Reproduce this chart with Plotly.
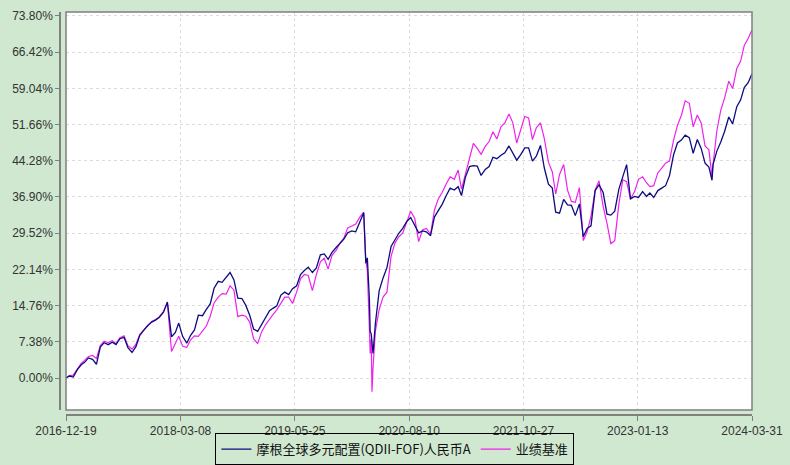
import plotly.graph_objects as go

dates = [
    "2016-12-19", "2017-01-01", "2017-01-16", "2017-02-01", "2017-02-16", "2017-03-01", "2017-03-16",
    "2017-04-01", "2017-04-16", "2017-05-01", "2017-05-16", "2017-06-01", "2017-06-16", "2017-07-01",
    "2017-07-16", "2017-08-01", "2017-08-16", "2017-09-01", "2017-09-16", "2017-10-01", "2017-10-16",
    "2017-11-01", "2017-11-16", "2017-12-01", "2017-12-16",
    "2018-01-01", "2018-01-16", "2018-02-01", "2018-02-16", "2018-03-01", "2018-03-16", "2018-04-01",
    "2018-04-16", "2018-05-01", "2018-05-16", "2018-06-01", "2018-06-16", "2018-07-01", "2018-07-16",
    "2018-08-01", "2018-08-16", "2018-09-01", "2018-09-16", "2018-10-01", "2018-10-16", "2018-11-01",
    "2018-11-16", "2018-12-01", "2018-12-16",
    "2019-01-01", "2019-01-16", "2019-02-01", "2019-02-16", "2019-03-01", "2019-03-16", "2019-04-01",
    "2019-04-16", "2019-05-01", "2019-05-16", "2019-06-01", "2019-06-16", "2019-07-01", "2019-07-16",
    "2019-08-01", "2019-08-16", "2019-09-01", "2019-09-16", "2019-10-01", "2019-10-16", "2019-11-01",
    "2019-11-16", "2019-12-01", "2019-12-16",
    "2020-01-01", "2020-01-16", "2020-02-01", "2020-02-16", "2020-02-24", "2020-03-01", "2020-03-09",
    "2020-03-12", "2020-03-16", "2020-03-19", "2020-03-23", "2020-04-01", "2020-04-16", "2020-05-01",
    "2020-05-16", "2020-06-01", "2020-06-16", "2020-07-01", "2020-07-16", "2020-08-01", "2020-08-16",
    "2020-09-01", "2020-09-16", "2020-10-01", "2020-10-16", "2020-11-01", "2020-11-16", "2020-12-01",
    "2020-12-16",
    "2021-01-01", "2021-01-16", "2021-02-01", "2021-02-16", "2021-03-01", "2021-03-16", "2021-04-01",
    "2021-04-16", "2021-05-01", "2021-05-16", "2021-06-01", "2021-06-16", "2021-07-01", "2021-07-16",
    "2021-08-01", "2021-08-16", "2021-09-01", "2021-09-16", "2021-10-01", "2021-10-16", "2021-11-01",
    "2021-11-16", "2021-12-01", "2021-12-16",
    "2022-01-01", "2022-01-16", "2022-02-01", "2022-02-16", "2022-03-01", "2022-03-16", "2022-04-01",
    "2022-04-16", "2022-05-01", "2022-05-16", "2022-06-01", "2022-06-16", "2022-07-01", "2022-07-16",
    "2022-08-01", "2022-08-16", "2022-09-01", "2022-09-16", "2022-10-01", "2022-10-16", "2022-11-01",
    "2022-11-16", "2022-12-01", "2022-12-16",
    "2023-01-01", "2023-01-16", "2023-02-01", "2023-02-16", "2023-03-01", "2023-03-16", "2023-04-01",
    "2023-04-16", "2023-05-01", "2023-05-16", "2023-06-01", "2023-06-16", "2023-07-01", "2023-07-16",
    "2023-08-01", "2023-08-16", "2023-09-01", "2023-09-16", "2023-10-01", "2023-10-16", "2023-10-28",
    "2023-11-01", "2023-11-16", "2023-12-01", "2023-12-16",
    "2024-01-01", "2024-01-16", "2024-02-01", "2024-02-16", "2024-03-01", "2024-03-16", "2024-03-31",
]

fund = [
    0.0, 0.4, 0.2, 1.7, 2.7, 3.2, 4.1,
    3.8, 2.8, 6.3, 7.2, 6.8, 7.3, 6.8,
    8.0, 8.3, 6.2, 5.2, 6.4, 8.7, 9.7,
    10.7, 11.4, 11.8, 12.4,
    13.4, 15.5, 8.4, 9.3, 11.2, 8.5, 7.1,
    8.7, 9.8, 12.8, 12.7, 14.0, 15.1, 18.3,
    19.7, 19.5, 20.6, 21.5, 20.0, 16.3, 16.2,
    14.8, 12.8, 10.0,
    9.5, 10.8, 12.2, 13.7, 14.2, 14.7, 16.9,
    17.5, 17.0, 18.2, 18.8, 21.1, 21.9, 22.6,
    21.5, 22.4, 25.1, 25.3, 24.2, 25.6, 26.6,
    27.5, 28.3, 29.6,
    30.0, 29.8, 32.0, 33.7, 23.4, 24.5, 16.0,
    9.5, 9.0, 7.0, 5.0, 11.0, 17.8, 20.4,
    22.5, 26.8, 28.1, 29.5, 30.5, 31.9, 32.7,
    31.0, 29.6, 30.0, 29.8, 29.0, 32.8, 34.1,
    35.4,
    37.2, 38.7, 38.3, 39.0, 37.2, 40.9, 43.1,
    43.3, 43.2, 41.3, 42.5, 43.1, 45.0, 44.7,
    45.4, 45.9, 47.3, 45.7, 44.4, 45.5, 46.9,
    46.9, 44.2, 45.2,
    47.4, 42.8, 39.5, 38.7, 33.8, 33.6, 36.4,
    35.3, 35.2, 33.1, 35.5, 28.8, 30.5, 31.0,
    38.2, 39.4, 37.8, 33.4, 33.2, 34.0, 38.5,
    41.0, 43.5, 36.5,
    37.0, 36.8, 38.0, 37.0, 37.7, 36.8, 38.2,
    38.7, 39.2, 41.2, 45.5, 47.9, 48.5, 49.5,
    49.0, 45.8, 48.6, 46.8, 43.8, 43.0, 40.3,
    43.5, 46.3, 48.1, 50.3,
    53.2, 51.8, 55.3, 56.7, 59.2, 60.2, 62.0,
]

bench = [
    0.0, 0.5, 0.6, 1.9, 3.0, 3.6, 4.4,
    4.6, 4.0, 6.6, 7.5, 7.2, 7.6, 7.0,
    8.2, 8.6, 6.6, 5.9, 6.9, 8.9, 9.8,
    10.8, 11.5, 11.9, 12.5,
    13.6, 15.3, 5.4, 7.2, 8.5, 6.5, 6.2,
    7.8, 8.6, 8.5, 9.7, 10.6, 12.6, 15.3,
    16.5, 17.2, 17.1, 18.8, 17.9, 12.5, 12.8,
    12.6, 11.4, 8.0,
    7.0, 9.4, 10.9, 12.1, 12.9, 13.9, 15.3,
    16.5, 16.5, 15.2, 17.5, 20.2, 21.1, 20.9,
    17.8, 21.0, 23.7, 24.4, 22.2, 25.0, 26.0,
    27.5, 28.5, 30.6,
    31.0, 31.4, 32.8, 33.8, 24.0, 22.0, 10.0,
    5.0, 8.0, -2.8, 2.0, 9.5, 14.0, 16.5,
    17.5, 24.8, 27.5, 28.8, 29.5, 31.8, 34.0,
    32.5, 27.8, 30.2, 30.5, 29.3, 34.2, 36.5,
    37.8,
    39.6, 41.0, 40.5, 42.4, 38.5, 41.4, 44.6,
    47.8, 46.8, 45.6, 47.2, 48.2, 50.2, 48.7,
    51.2, 52.0, 53.8, 52.0, 47.9, 50.6, 53.3,
    53.0, 48.6, 51.0,
    52.0, 48.8, 44.0, 42.0, 37.5, 41.5, 43.5,
    38.3, 36.0, 35.8, 38.8, 28.0, 29.8, 33.0,
    38.3, 40.2, 35.0, 31.5, 27.4, 28.0, 35.5,
    40.4, 40.0, 36.5,
    38.0, 40.5, 41.0, 39.8, 39.0, 39.2, 41.8,
    42.8, 43.8, 44.2, 48.5, 51.5, 53.5, 56.5,
    56.0, 51.2, 53.6, 52.0, 47.3, 46.5, 41.0,
    43.5, 50.5, 54.6, 57.1,
    60.5, 59.0, 63.1, 64.6, 67.8, 69.2, 71.0,
]

x_ticks = ["2016-12-19", "2018-03-08", "2019-05-25", "2020-08-10",
           "2021-10-27", "2023-01-13", "2024-03-31"]
y_ticks = [0.0, 7.38, 14.76, 22.14, 29.52, 36.90, 44.28, 51.66, 59.04, 66.42, 73.80]
y_tick_labels = ["%.2f%%" % v for v in y_ticks]

series_names = ["摩根全球多元配置(QDII-FOF)人民币A", "业绩基准"]

BG = "#cfe8cf"
AXIS = "#808080"
GRID = "#dddddd"
GRID_DASH = "3px,3px"

fig = go.Figure()
fig.add_trace(go.Scatter(
    x=dates, y=bench, mode="lines", name=series_names[1],
    line=dict(color="#ee22ee", width=1.2), legendrank=2,
))
fig.add_trace(go.Scatter(
    x=dates, y=fund, mode="lines", name=series_names[0],
    line=dict(color="#0c0c80", width=1.3), legendrank=1,
))

fig.update_layout(
    width=790, height=465,
    paper_bgcolor=BG, plot_bgcolor="white",
    margin=dict(l=60, r=38, t=12, b=50, autoexpand=False),
    font=dict(family="Liberation Sans, Arial, sans-serif", size=12, color="#333333"),
    showlegend=True,
    legend=dict(
        orientation="h", x=0.484, xanchor="center", y=-0.045, yanchor="top",
        bgcolor="rgba(0,0,0,0)", bordercolor="black", borderwidth=1,
        font=dict(family="Noto Sans CJK SC", size=13, color="#111111"),
        itemwidth=30, tracegroupgap=0,
    ),
    xaxis=dict(
        type="date", range=[x_ticks[0], x_ticks[-1]],
        domain=[6 / 692, 1], anchor="free", position=0,
        tickmode="array", tickvals=x_ticks, ticktext=x_ticks, tickangle=0,
        showline=True, linecolor=AXIS, linewidth=1.5,
        ticks="outside", ticklen=5, tickcolor=AXIS,
        showgrid=True, gridcolor=GRID, griddash=GRID_DASH, gridwidth=1,
        zeroline=False, automargin=False,
    ),
    yaxis=dict(
        range=[-6.52, 74.6],
        domain=[5 / 403, 1], anchor="free", position=0,
        tickmode="array", tickvals=y_ticks, ticktext=y_tick_labels,
        showline=True, linecolor=AXIS, linewidth=1.5,
        ticks="outside", ticklen=4, tickcolor=AXIS,
        showgrid=True, gridcolor=GRID, griddash=GRID_DASH, gridwidth=1,
        zeroline=False, automargin=False,
    ),
    shapes=[dict(
        type="rect", xref="x domain", yref="y domain", x0=0, x1=1, y0=0, y1=1,
        line=dict(color=AXIS, width=1.5), layer="above",
    )],
)

fig.write_html(
    "out.html",
    config={"displayModeBar": False},
    post_script="document.body.style.margin='0';document.body.style.padding='0';",
)
